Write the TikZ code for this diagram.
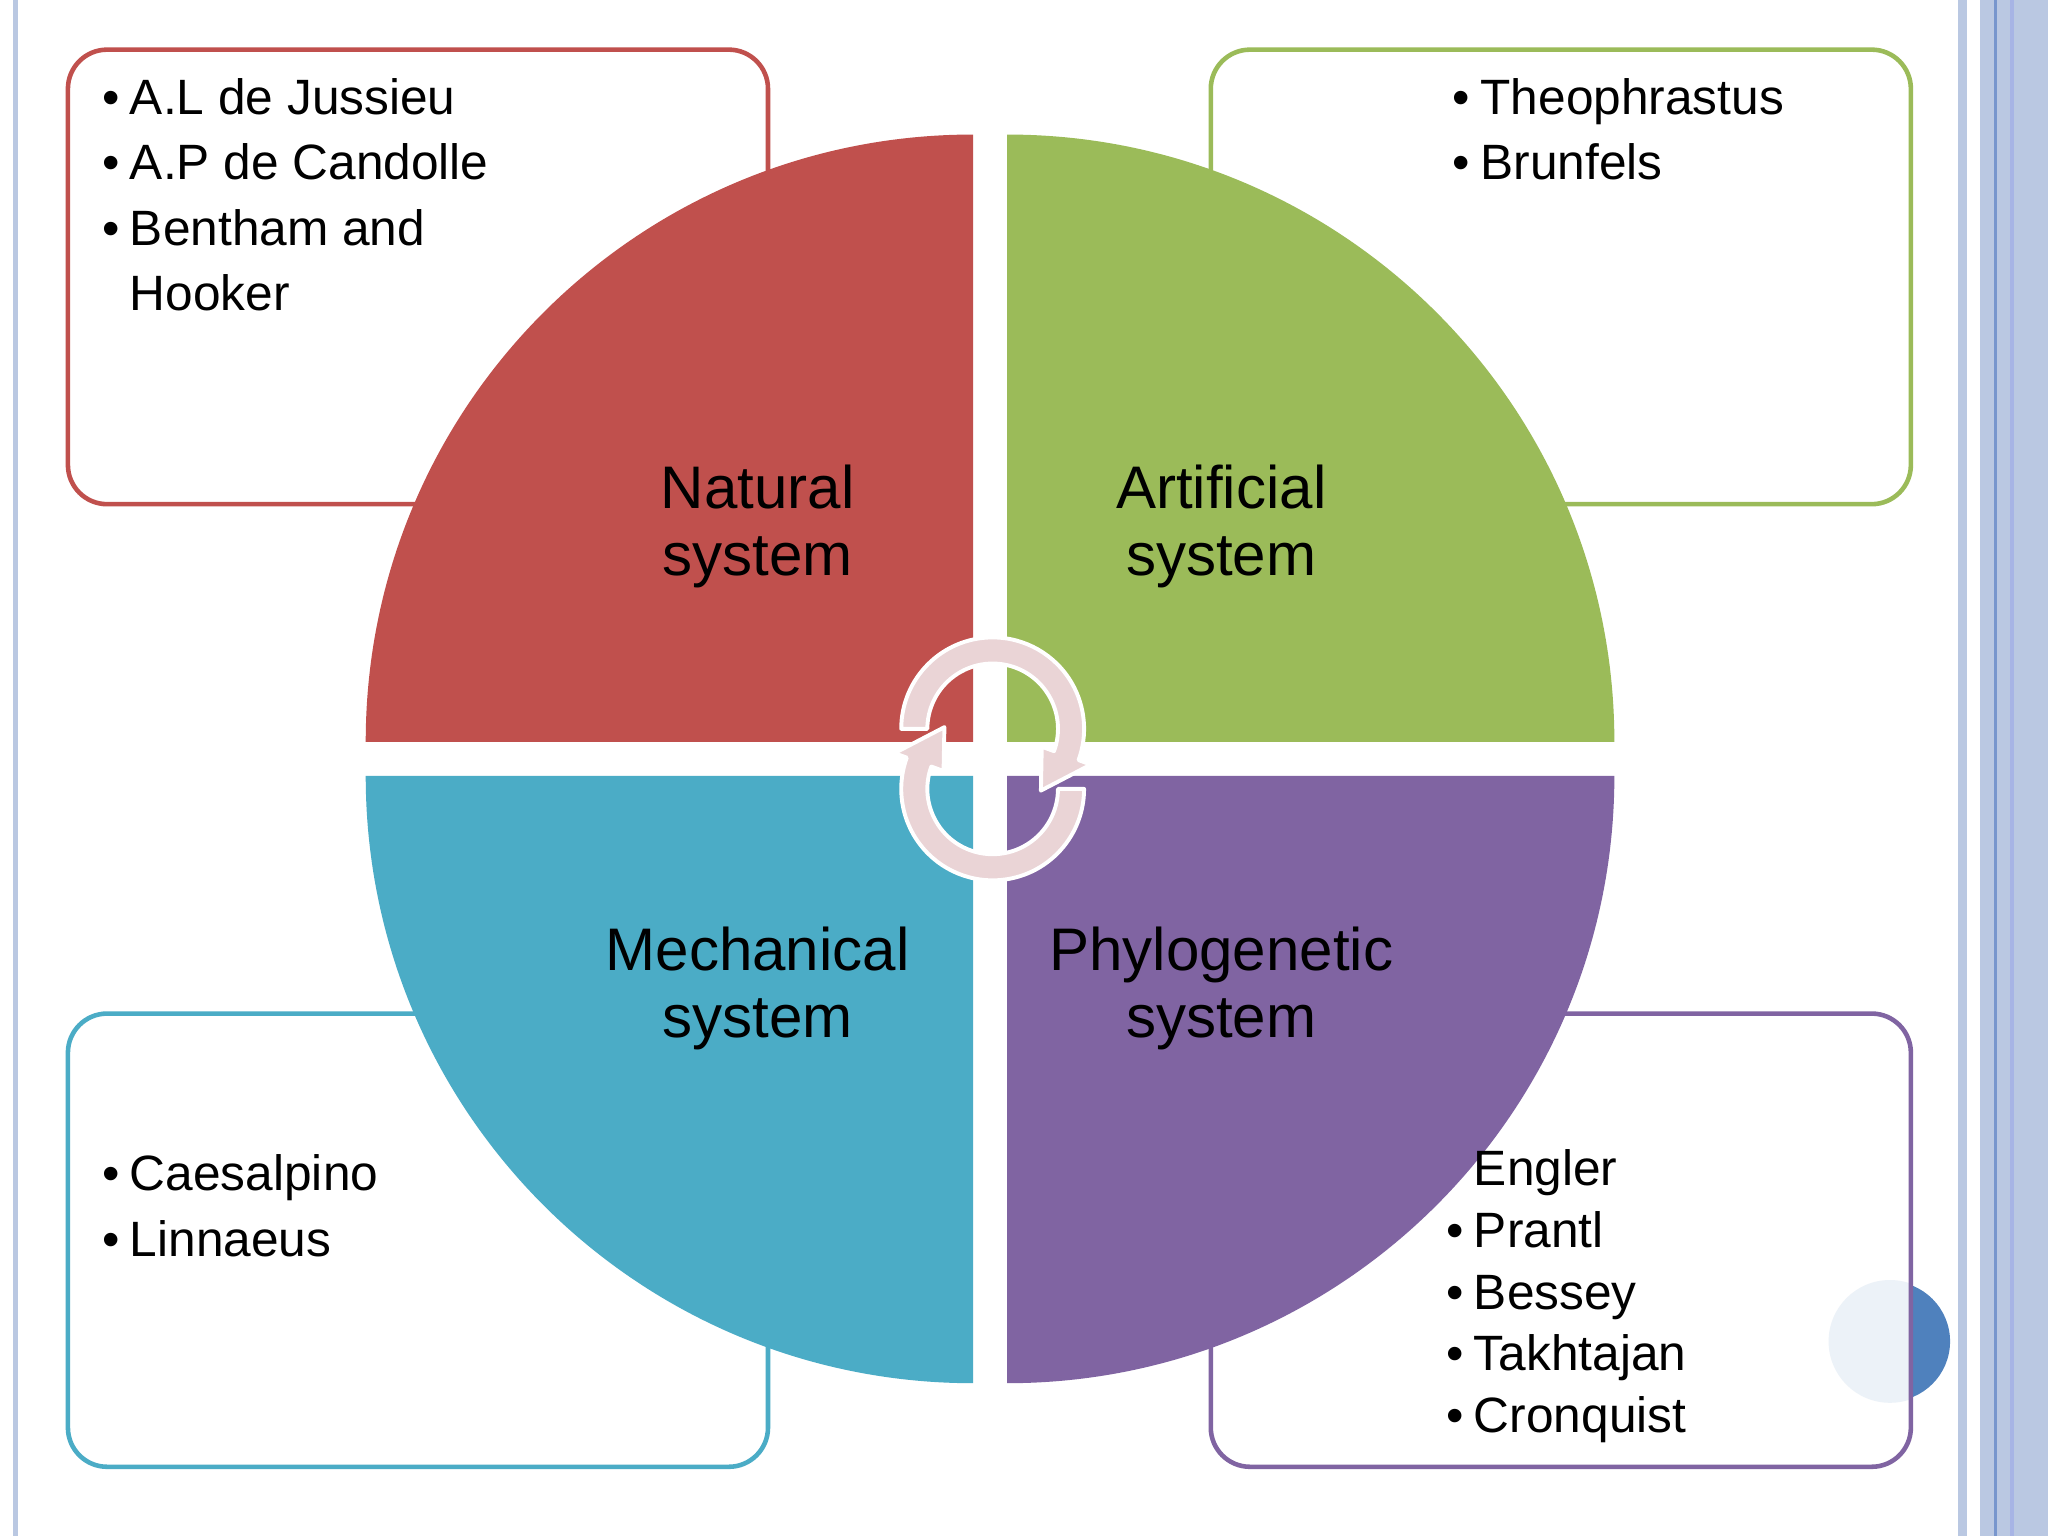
\documentclass[tikz,border=0pt]{standalone}
\usepackage{fontspec}
\setmainfont{Liberation Sans}
\definecolor{cred}{RGB}{192,80,77}
\definecolor{cgreen}{RGB}{155,187,89}
\definecolor{cblue}{RGB}{75,172,198}
\definecolor{cpurple}{RGB}{128,100,162}
\definecolor{stripe}{RGB}{186,200,226}
\definecolor{stripedark}{RGB}{120,150,205}
\definecolor{dotblue}{RGB}{79,129,189}
\definecolor{pale}{RGB}{236,242,248}
\definecolor{arrowpink}{RGB}{234,212,214}
\begin{document}
\begin{tikzpicture}[x=1pt,y=-1pt,
  box/.style={line width=3.5pt,rounded corners=30pt},
  quad/.style={draw=none},
  big/.style={font=\fontsize{46}{51}\selectfont,align=center,text=black},
  lst/.style={font=\fontsize{38}{50}\selectfont,anchor=north west,align=left,text=black,inner sep=0pt},
  carrow/.style={fill=arrowpink,draw=white,line width=3pt,line join=round}]
\useasboundingbox (0,0) rectangle (1568,1176);
\fill[white] (0,0) rectangle (1568,1176);
% decorations
\fill[stripe] (10,0) rectangle (14,1176);
\fill[stripe] (1499,0) rectangle (1506,1176);
\fill[stripe] (1516,0) rectangle (1568,1176);
\fill[stripedark] (1527,0) rectangle (1529,1176);
\fill[stripe!90!blue] (1539,0) rectangle (1542,1176);
\fill[dotblue] (1447,1027) circle (46);
\begin{scope}
\clip (1380,960) rectangle (1462,1100);
\fill[pale] (1447,1027) circle (47);
\end{scope}
% boxes
\draw[box,cred] (52,38) rectangle (588,386);
\draw[box,cgreen] (927,38) rectangle (1463,386);
\draw[box,cblue] (52,776) rectangle (588,1123);
\draw[box,cpurple] (927,776) rectangle (1463,1123);
% white disc
\fill[white] (758,581) circle (480);
% quadrants
\fill[cred] (745,568) -- (280,568) arc[start angle=180,end angle=270,radius=465] -- cycle;
\fill[cgreen] (771,568) -- (771,103) arc[start angle=270,end angle=360,radius=465] -- cycle;
\fill[cblue] (745,594) -- (745,1059) arc[start angle=90,end angle=180,radius=465] -- cycle;
\fill[cpurple] (771,594) -- (1236,594) arc[start angle=0,end angle=90,radius=465] -- cycle;
% labels
\node[big] (nat) at (580,403) {Natural\\system};
\node[big] (art) at (935,403) {Artificial\\system};
\node[big] (mec) at (580,757) {Mechanical\\system};
\node[big] (phy) at (935,757) {Phylogenetic\\system};
% lists
\node[lst] (l1) at (78,60) {•\hspace{8pt}A.L de Jussieu\\•\hspace{8pt}A.P de Candolle\\•\hspace{8pt}Bentham and\\\phantom{•}\hspace{8pt}Hooker};
\node[lst] (l2) at (1112,60) {•\hspace{8pt}Theophrastus\\•\hspace{8pt}Brunfels};
\node[lst] (l3) at (78,884) {•\hspace{8pt}Caesalpino\\•\hspace{8pt}Linnaeus};
\node[lst,font=\fontsize{38}{47.3}\selectfont] (l4) at (1107,880) {\phantom{•}\hspace{8pt}Engler\\•\hspace{8pt}Prantl\\•\hspace{8pt}Bessey\\•\hspace{8pt}Takhtajan\\•\hspace{8pt}Cronquist};
% circular arrows
\begin{scope}[shift={(760,558)}]
\draw[carrow] (180:70) arc[start angle=180,end angle=380,radius=70]
  -- (380:80) -- (412:60) -- (380:40) -- (380:50)
  arc[start angle=380,end angle=180,radius=50] -- cycle;
\end{scope}
\begin{scope}[shift={(760,604)}]
\draw[carrow] (0:70) arc[start angle=0,end angle=200,radius=70]
  -- (200:80) -- (232:60) -- (200:40) -- (200:50)
  arc[start angle=200,end angle=0,radius=50] -- cycle;
\end{scope}
\end{tikzpicture}
\end{document}
